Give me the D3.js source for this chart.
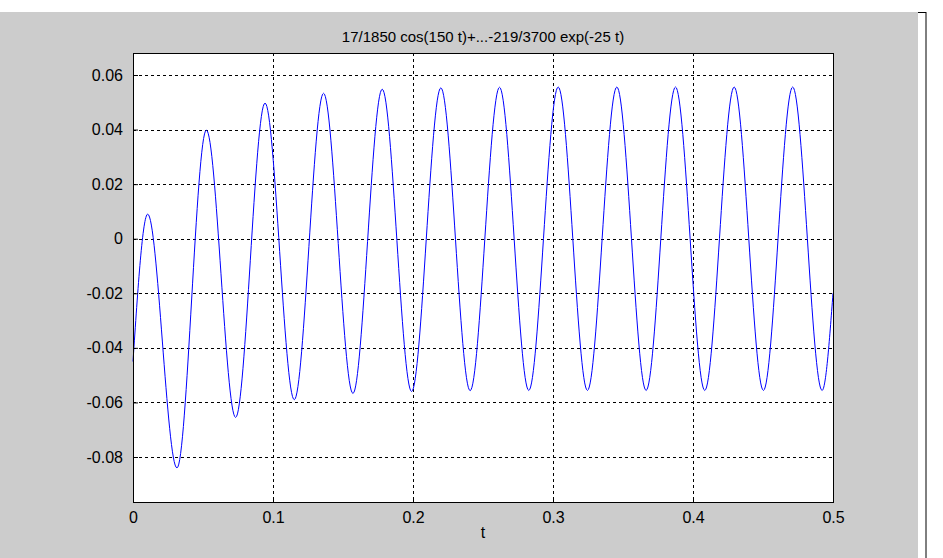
<!DOCTYPE html>
<html><head><meta charset="utf-8">
<script src="https://cdn.jsdelivr.net/npm/d3@7"></script>
<style>body{margin:0;background:#fff}text{font-family:Arial,"Liberation Sans",sans-serif}</style>
</head><body>
<script>
// extrema of the curve (t, y)
var tValues = [0, 0.0105, 0.0314, 0.0524, 0.0733, 0.0943, 0.1152, 0.1361, 0.1571, 0.178, 0.199,
  0.2199, 0.2408, 0.2618, 0.2827, 0.3037, 0.3246, 0.3456, 0.3665, 0.3875, 0.4084, 0.4294, 0.4503,
  0.4712, 0.4922, 0.5];
var yValues = [-0.045, 0.009, -0.084, 0.0398, -0.0655, 0.0497, -0.059, 0.0533, -0.0567, 0.0548, -0.056,
  0.0553, -0.0557, 0.0555, -0.0556, 0.0556, -0.0556, 0.0556, -0.0556, 0.0556, -0.0556, 0.0556, -0.0556,
  0.0556, -0.0556, -0.02];
var xTicks = [0, 0.1, 0.2, 0.3, 0.4, 0.5];
var yTicks = [-0.08, -0.06, -0.04, -0.02, 0, 0.02, 0.04, 0.06];
var titleText = "17/1850 cos(150 t)+...-219/3700 exp(-25 t)";

var W = 943, H = 558;
var svg = d3.select("body").append("svg").attr("width", W).attr("height", H);

svg.append("rect").attr("x", 0).attr("y", 12).attr("width", 918).attr("height", H - 12).attr("fill", "#cccccc");
svg.append("line").attr("x1", 926).attr("x2", 926).attr("y1", 12).attr("y2", H).attr("stroke", "#000");
svg.append("line").attr("x1", 918).attr("x2", 926).attr("y1", 12.5).attr("y2", 12.5).attr("stroke", "#000");

var pLeft = 133, pRight = 833, pTop = 53, pBottom = 502;
var x = d3.scaleLinear().domain([0, 0.5]).range([pLeft, pRight]);
var y = d3.scaleLinear().domain([-0.08, 0.06]).range([457, 75]);

svg.append("rect").attr("x", pLeft).attr("y", pTop).attr("width", pRight - pLeft).attr("height", pBottom - pTop).attr("fill", "#fff");

// grid
var g = svg.append("g");
g.selectAll(".gx").data(xTicks.slice(1, -1)).enter().append("line")
  .attr("x1", d => Math.round(x(d)) + 0.5).attr("x2", d => Math.round(x(d)) + 0.5)
  .attr("y1", pTop).attr("y2", pBottom).attr("stroke", "#000").attr("stroke-dasharray", "3,3");
g.selectAll(".gy").data(yTicks).enter().append("line")
  .attr("y1", d => Math.round(y(d)) + 0.5).attr("y2", d => Math.round(y(d)) + 0.5)
  .attr("x1", pLeft).attr("x2", pRight).attr("stroke", "#000").attr("stroke-dasharray", "3,3");

// curve
var pts = tValues.map((t, i) => [t, yValues[i]]);
svg.append("path").datum(pts)
  .attr("d", d3.line().x(d => x(d[0])).y(d => y(d[1])).curve(d3.curveMonotoneX))
  .attr("fill", "none").attr("stroke", "#0000ff").attr("stroke-width", 1);

// ticks inward
var xAxis = d3.axisBottom(x).tickValues(xTicks).tickSize(-5).tickPadding(10).tickFormat(d3.format("~g"));
var xa = svg.append("g").attr("transform", "translate(0," + pBottom + ")").call(xAxis);
var yAxis = d3.axisLeft(y).tickValues(yTicks).tickSize(-5).tickPadding(10)
  .tickFormat(d => d === 0 ? "0" : d.toFixed(2));
var ya = svg.append("g").attr("transform", "translate(" + pLeft + ",0)").call(yAxis);
[xa, ya].forEach(a => {
  a.select(".domain").remove();
  a.selectAll("line").attr("stroke", "#000");
  a.selectAll("text").attr("font-size", 16).attr("fill", "#000").attr("font-family", "Arial, 'Liberation Sans', sans-serif");
});
svg.append("rect").attr("x", pLeft + 0.5).attr("y", pTop + 0.5).attr("width", pRight - pLeft).attr("height", pBottom - pTop)
  .attr("fill", "none").attr("stroke", "#000");

svg.append("text").attr("x", (pLeft + pRight) / 2).attr("y", 42).attr("text-anchor", "middle")
  .attr("font-size", 15).text(titleText);
svg.append("text").attr("x", (pLeft + pRight) / 2).attr("y", 538).attr("text-anchor", "middle")
  .attr("font-size", 16).text("t");
</script>
</body></html>
